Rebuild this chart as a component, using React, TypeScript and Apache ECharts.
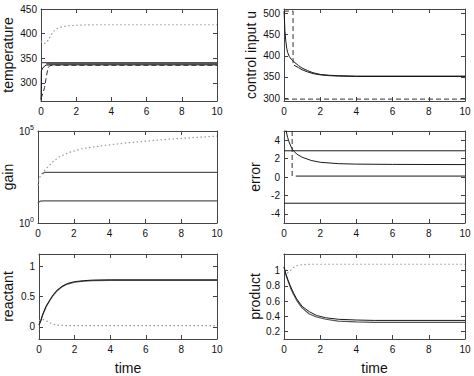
import React, { useEffect, useRef } from 'react';
import * as echarts from 'echarts';

// ---------- data ----------
const xTicks = [0, 2, 4, 6, 8, 10];

// temperature
const tempTicks = [300, 350, 400, 450];
const tempHighT = [0, 0.1, 0.25, 0.4, 0.55, 0.7, 0.9, 1.2, 1.6, 2, 3, 10];
const tempHighV = [385, 381, 380, 386, 396, 404, 410, 414, 416, 417, 418, 418];
const tempFlatAT = [0, 10];
const tempFlatAV = [341, 341];
const tempFlatBT = [0.3, 10];
const tempFlatBV = [338.5, 338.5];
const tempRiseT = [0, 0.02, 0.1, 0.2, 0.3, 0.5, 10];
const tempRiseV = [264, 324, 330, 334, 336, 336.5, 336.5];
const tempDashT = [0, 0.1, 0.2, 0.3, 0.4, 0.5, 0.7, 10];
const tempDashV = [268, 278, 290, 312, 330, 335, 335.5, 335.5];

// control input u
const uTicks = [300, 350, 400, 450, 500];
const uSolidT = [0, 0.02, 0.05, 0.1, 0.15, 0.2, 0.3, 0.4, 0.6, 0.8, 1, 1.3, 1.6, 2, 2.5, 3, 4, 10];
const uSolidV = [506, 490, 460, 435, 418, 408, 398, 392, 384, 377, 371, 365, 360, 356, 354, 353, 352, 352];
const uLowT = [0.55, 0.8, 1, 1.3, 1.6, 2, 2.5, 3, 4, 10];
const uLowV = [378, 372, 367, 362, 358, 355, 353, 352, 351, 351];
const uDashT = [0, 0.5, 0.5];
const uDashV = [506, 506, 379];
const uBottomT = [0, 10];
const uBottomV = [297.5, 297.5];

// gain (log scale)
const gainTicks = [1, 100000];
const gainDotT = [0, 0.05, 0.15, 0.3, 0.5, 0.8, 1.2, 1.7, 2.5, 3, 4, 5, 6, 7, 8, 9, 10];
const gainDotV = [112, 224, 398, 603, 1000, 1995, 3981, 6607, 11220, 13183, 17783, 22909, 28184, 33884, 39811, 45709, 52481];
const gainHighT = [0.25, 0.35, 10];
const gainHighV = [480, 560, 560];
const gainLowT = [0, 0.05, 0.15, 0.3, 10];
const gainLowV = [12, 14, 15.5, 16, 16];

// error
const errTicks = [-4, -2, 0, 2, 4];
const errCurveT = [0.08, 0.2, 0.3, 0.4, 0.5, 0.7, 1, 1.5, 2, 3, 4, 6, 10];
const errCurveV = [5.3, 4.3, 3.7, 3.25, 2.9, 2.5, 2.15, 1.8, 1.6, 1.45, 1.4, 1.37, 1.35];
const errUpperT = [0, 10];
const errUpperV = [2.85, 2.85];
const errLowerT = [0, 10];
const errLowerV = [-2.85, -2.85];
const errDashT = [0.45, 0.45];
const errDashV = [5, 0.1];
const errZeroT = [0.65, 10];
const errZeroV = [0.1, 0.1];

// reactant
const reacTicks = [0, 0.5, 1];
const reacT = [0, 0.1, 0.2, 0.4, 0.6, 0.8, 1, 1.3, 1.6, 2, 2.5, 3, 4, 10];
const reacAV = [0.03, 0.1, 0.2, 0.34, 0.44, 0.53, 0.6, 0.67, 0.715, 0.745, 0.76, 0.77, 0.775, 0.775];
const reacBV = [0.03, 0.1, 0.19, 0.33, 0.43, 0.52, 0.59, 0.66, 0.705, 0.735, 0.752, 0.762, 0.767, 0.767];
const reacDotT = [0, 0.1, 0.25, 0.4, 0.6, 0.8, 1, 1.5, 10];
const reacDotV = [0.1, 0.12, 0.12, 0.1, 0.07, 0.045, 0.03, 0.02, 0.02];

// product
const prodTicks = [0.2, 0.4, 0.6, 0.8, 1];
const prodT = [0, 0.1, 0.2, 0.35, 0.5, 0.7, 1, 1.4, 1.8, 2.3, 3, 4, 5, 10];
const prodAV = [1.05, 0.96, 0.89, 0.8, 0.72, 0.63, 0.53, 0.46, 0.41, 0.38, 0.36, 0.35, 0.345, 0.345];
const prodBV = [1.05, 0.95, 0.88, 0.78, 0.7, 0.61, 0.51, 0.43, 0.39, 0.36, 0.335, 0.325, 0.32, 0.32];
const prodDotT = [0, 0.1, 0.2, 0.35, 0.5, 0.7, 1, 1.5, 10];
const prodDotV = [1.0, 0.975, 0.97, 1.0, 1.04, 1.065, 1.08, 1.085, 1.085];

// ---------- helpers ----------
const pairs = (t: number[], v: number[]) => t.map((x, i) => [x, v[i]]);

const FONT = 'Liberation Sans, Arial, Helvetica, sans-serif';
const SOLID = { color: '#1a1a1a', width: 1, type: 'solid' as const };
const SOLID2 = { color: '#555', width: 1.2, type: 'solid' as const };
const DOTTED = { color: '#9a9a9a', width: 1.2, type: [1.5, 2.5] };
const DASHED = { color: '#333', width: 1, type: [5, 3] };

export default function App() {
  const ref = useRef<HTMLDivElement>(null);

  useEffect(() => {
    document.body.style.margin = '0';
    if (!ref.current) return;
    const chart = echarts.init(ref.current, undefined, { renderer: 'svg' });

    const grids: any[] = [];
    const xAxes: any[] = [];
    const yAxes: any[] = [];
    const series: any[] = [];

    const axisLine = { show: true, onZero: false, lineStyle: { color: '#444', width: 1 } };
    const tickStyle = { inside: true, length: 4, lineStyle: { color: '#444', width: 1 } };

    const addPanel = (p: {
      left: number; top: number; width: number; height: number;
      name: string; nameGap: number; yMin: number; yMax: number; yTicks: number[];
      log?: boolean; xName?: string;
      lines: { data: number[][]; style: any }[];
    }) => {
      const gi = grids.length;
      grids.push({ left: p.left, top: p.top, width: p.width, height: p.height, containLabel: false });
      const xi = xAxes.length;
      xAxes.push({
        type: 'value', gridIndex: gi, position: 'bottom', min: 0, max: 10,
        axisLine, splitLine: { show: false },
        axisTick: { ...tickStyle, customValues: xTicks },
        axisLabel: { customValues: xTicks, color: '#111', fontSize: 10, fontFamily: FONT, margin: 5 },
        name: p.xName || '', nameLocation: 'middle', nameGap: 22, nameMoveOverlap: false,
        nameTextStyle: { fontSize: 14, fontFamily: FONT, color: '#111' },
      });
      xAxes.push({
        type: 'value', gridIndex: gi, position: 'top', min: 0, max: 10,
        axisLine, splitLine: { show: false },
        axisTick: { ...tickStyle, customValues: xTicks },
        axisLabel: { show: false },
      });
      const yi = yAxes.length;
      const yType = p.log ? 'log' : 'value';
      const labelExtra: any = p.log
        ? {
            formatter: (v: number) => `{a|10}{s|${Math.round(Math.log10(v))}}`,
            rich: {
              a: { fontSize: 10, fontFamily: FONT, color: '#111' },
              s: { fontSize: 7, fontFamily: FONT, color: '#111', padding: [0, 0, 7, 0] },
            },
          }
        : {};
      yAxes.push({
        type: yType, logBase: 10, gridIndex: gi, position: 'left', min: p.yMin, max: p.yMax,
        axisLine, splitLine: { show: false },
        axisTick: { ...tickStyle, show: !p.log, customValues: p.yTicks },
        axisLabel: { customValues: p.yTicks, color: '#111', fontSize: 10, fontFamily: FONT, margin: 4, ...labelExtra },
        name: p.name, nameLocation: 'middle', nameGap: p.nameGap, nameMoveOverlap: false,
        nameTextStyle: { fontSize: 14, fontFamily: FONT, color: '#111' },
      });
      yAxes.push({
        type: yType, logBase: 10, gridIndex: gi, position: 'right', min: p.yMin, max: p.yMax,
        axisLine, splitLine: { show: false },
        axisTick: { ...tickStyle, show: !p.log, customValues: p.yTicks },
        axisLabel: { show: false },
      });
      p.lines.forEach((l) => {
        series.push({
          type: 'line', xAxisIndex: xi, yAxisIndex: yi, data: l.data,
          showSymbol: false, symbol: 'none', lineStyle: l.style, clip: true, silent: true,
        });
      });
    };

    const L = 36, R = 284, W = 181;

    addPanel({
      left: L, top: 9, width: W, height: 92, name: 'temperature', nameGap: 26,
      yMin: 263, yMax: 450, yTicks: tempTicks,
      lines: [
        { data: pairs(tempHighT, tempHighV), style: DOTTED },
        { data: pairs(tempFlatAT, tempFlatAV), style: SOLID2 },
        { data: pairs(tempFlatBT, tempFlatBV), style: SOLID },
        { data: pairs(tempRiseT, tempRiseV), style: SOLID },
        { data: pairs(tempDashT, tempDashV), style: DASHED },
      ],
    });
    addPanel({
      left: R, top: 9, width: W, height: 92, name: 'control input u', nameGap: 26,
      yMin: 293, yMax: 511, yTicks: uTicks,
      lines: [
        { data: pairs(uBottomT, uBottomV), style: DASHED },
        { data: pairs(uDashT, uDashV), style: DASHED },
        { data: pairs(uLowT, uLowV), style: SOLID },
        { data: pairs(uSolidT, uSolidV), style: SOLID },
      ],
    });
    addPanel({
      left: L, top: 131, width: W, height: 92, name: 'gain', nameGap: 23,
      yMin: 1, yMax: 100000, yTicks: gainTicks, log: true,
      lines: [
        { data: pairs(gainDotT, gainDotV), style: DOTTED },
        { data: pairs(gainHighT, gainHighV), style: SOLID2 },
        { data: pairs(gainLowT, gainLowV), style: SOLID2 },
      ],
    });
    addPanel({
      left: R, top: 131, width: W, height: 92, name: 'error', nameGap: 22,
      yMin: -5, yMax: 5, yTicks: errTicks,
      lines: [
        { data: pairs(errUpperT, errUpperV), style: SOLID },
        { data: pairs(errLowerT, errLowerV), style: SOLID },
        { data: pairs(errCurveT, errCurveV), style: SOLID },
        { data: pairs(errDashT, errDashV), style: DASHED },
        { data: pairs(errZeroT, errZeroV), style: SOLID },
      ],
    });
    addPanel({
      left: L, top: 254, width: W, height: 92, name: 'reactant', nameGap: 24, xName: 'time',
      yMin: -0.2, yMax: 1.2, yTicks: reacTicks,
      lines: [
        { data: pairs(reacDotT, reacDotV), style: DOTTED },
        { data: pairs(reacT, reacBV), style: SOLID2 },
        { data: pairs(reacT, reacAV), style: SOLID },
      ],
    });
    addPanel({
      left: R, top: 254, width: W, height: 92, name: 'product', nameGap: 22, xName: 'time',
      yMin: 0.1, yMax: 1.22, yTicks: prodTicks,
      lines: [
        { data: pairs(prodDotT, prodDotV), style: DOTTED },
        { data: pairs(prodT, prodBV), style: SOLID2 },
        { data: pairs(prodT, prodAV), style: SOLID },
      ],
    });

    chart.setOption({
      animation: false,
      backgroundColor: '#ffffff',
      grid: grids,
      xAxis: xAxes,
      yAxis: yAxes,
      series,
    });

    return () => chart.dispose();
  }, []);

  return <div ref={ref} style={{ width: 474, height: 376 }} />;
}
